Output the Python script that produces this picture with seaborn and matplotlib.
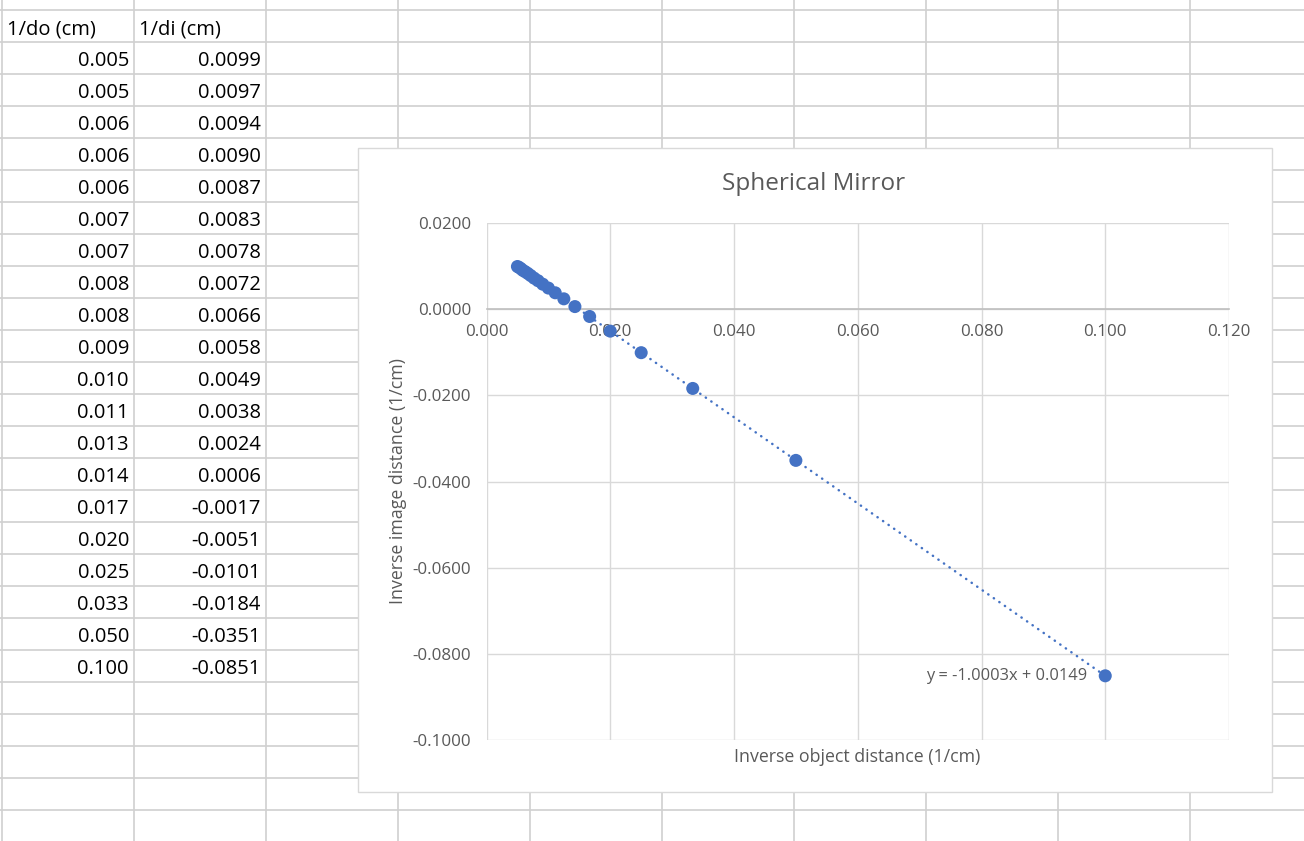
import numpy as np
import pandas as pd
import seaborn as sns
import matplotlib
matplotlib.use("Agg")
import matplotlib.pyplot as plt
from matplotlib.patches import Rectangle
from matplotlib.ticker import FormatStrFormatter

# ---- data ----
inv_do = [0.00500, 0.00526, 0.00556, 0.00588, 0.00625, 0.00667, 0.00714, 0.00769,
          0.00833, 0.00909, 0.01000, 0.01111, 0.01250, 0.01429, 0.01667, 0.02000,
          0.02500, 0.03333, 0.05000, 0.10000]
inv_di = [0.0099, 0.0097, 0.0094, 0.0090, 0.0087, 0.0083, 0.0078, 0.0072,
          0.0066, 0.0058, 0.0049, 0.0038, 0.0024, 0.0006, -0.0017, -0.0051,
          -0.0101, -0.0184, -0.0351, -0.0851]
col_headers = ["1/do (cm)", "1/di (cm)"]
title = "Spherical Mirror"
x_label = "Inverse object distance (1/cm)"
y_label = "Inverse image distance (1/cm)"
equation = "y = -1.0003x + 0.0149"
x_ticks = [0.0, 0.02, 0.04, 0.06, 0.08, 0.10, 0.12]
y_ticks = [-0.10, -0.08, -0.06, -0.04, -0.02, 0.0, 0.02]

df = pd.DataFrame({"x": inv_do, "y": inv_di})

sns.set_theme(style="white")
plt.rcParams["font.family"] = ["Open Sans", "DejaVu Sans"]

W, H = 1304, 841
fig = plt.figure(figsize=(W / 100, H / 100), dpi=100)

# ---- spreadsheet background ----
bg = fig.add_axes([0, 0, 1, 1])
bg.set_xlim(0, W)
bg.set_ylim(H, 0)
bg.axis("off")
grid_c = "#d0d0d0"
row_lines = np.arange(10, H + 32, 32)
col_lines = [2] + list(np.arange(134, W + 132, 132))
bg.hlines(row_lines, 0, W, color=grid_c, lw=1.2, zorder=1)
bg.vlines(col_lines, 0, H, color=grid_c, lw=1.2, zorder=1)

cell_font = 14.5
bg.text(7, 29, col_headers[0], ha="left", va="center", fontsize=cell_font, color="black", zorder=2)
bg.text(139, 29, col_headers[1], ha="left", va="center", fontsize=cell_font, color="black", zorder=2)
for i, (a, b) in enumerate(zip(inv_do, inv_di)):
    yc = 60.5 + 32 * i
    bg.text(129, yc, f"{a:.3f}", ha="right", va="center", fontsize=cell_font, color="black", zorder=2)
    bg.text(261, yc, f"{b:.4f}", ha="right", va="center", fontsize=cell_font, color="black", zorder=2)

# chart frame
bg.add_patch(Rectangle((358, 148), 1272 - 358, 792 - 148, facecolor="white",
                       edgecolor="#d9d9d9", lw=1.0, zorder=5))
txt_c = "#595959"
bg.text(814, 184, title, ha="center", va="center", fontsize=17.5, color=txt_c, zorder=6)
bg.text(857, 757, x_label, ha="center", va="center", fontsize=12.8, color=txt_c, zorder=6)
bg.text(398, 481, y_label, ha="center", va="center", rotation=90, fontsize=12.8, color=txt_c, zorder=6)

# ---- chart ----
L, R, T, B = 486.5, 1229, 223, 740
ax = fig.add_axes([L / W, 1 - B / H, (R - L) / W, (B - T) / H])
ax.set_zorder(10)
ax.patch.set_alpha(0)

blue = "#4472C4"
sns.regplot(data=df, x="x", y="y", ax=ax, scatter=False, ci=None, truncate=True,
            line_kws=dict(color=blue, lw=1.8, ls=(0, (0.1, 2.6)), dash_capstyle="round", zorder=3))
sns.scatterplot(data=df, x="x", y="y", ax=ax, color=blue, s=88, edgecolor="none", zorder=4)

ax.set_xlim(0, 0.12)
ax.set_ylim(-0.1, 0.02)
ax.set_xticks(x_ticks)
ax.set_yticks(y_ticks)
ax.xaxis.set_major_formatter(FormatStrFormatter("%.3f"))
ax.yaxis.set_major_formatter(FormatStrFormatter("%.4f"))
ax.grid(True, color="#d9d9d9", lw=1.0)
ax.set_axisbelow(True)
for s in ["top", "right", "left"]:
    ax.spines[s].set_visible(False)
ax.spines["bottom"].set_position(("data", 0))
ax.spines["bottom"].set_color("#bfbfbf")
ax.spines["bottom"].set_linewidth(1.2)
ax.tick_params(axis="both", length=0, labelsize=12.2, labelcolor=txt_c)
ax.tick_params(axis="x", pad=11)
ax.tick_params(axis="y", pad=11)
ax.set_xlabel("")
ax.set_ylabel("")

ax.text(0.0971, -0.0851, equation, ha="right", va="center", fontsize=11.8, color=txt_c, zorder=5)

fig.savefig("out.png", dpi=100)
